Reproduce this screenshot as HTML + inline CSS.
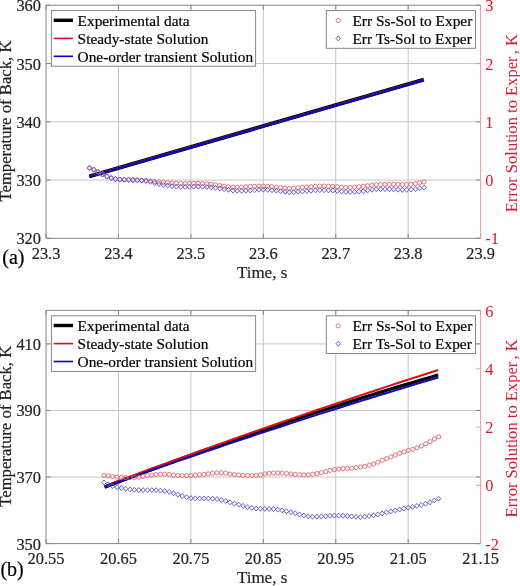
<!DOCTYPE html>
<html><head><meta charset="utf-8"><title>Temperature plots</title>
<style>html,body{margin:0;padding:0;background:#fff;width:520px;height:586px;overflow:hidden}svg{display:block}</style>
</head><body>
<svg width="520" height="586" viewBox="0 0 520 586">
<rect width="520" height="586" fill="#fff"/>
<defs><filter id="bl" x="0" y="0" width="1" height="1"><feGaussianBlur stdDeviation="0.45"/></filter></defs><g filter="url(#bl)">
<line x1="118.47" y1="5.2" x2="118.47" y2="238.3" stroke="#c6c6c6" stroke-width="1"/>
<line x1="190.90" y1="5.2" x2="190.90" y2="238.3" stroke="#c6c6c6" stroke-width="1"/>
<line x1="263.32" y1="5.2" x2="263.32" y2="238.3" stroke="#c6c6c6" stroke-width="1"/>
<line x1="335.75" y1="5.2" x2="335.75" y2="238.3" stroke="#c6c6c6" stroke-width="1"/>
<line x1="408.18" y1="5.2" x2="408.18" y2="238.3" stroke="#c6c6c6" stroke-width="1"/>
<line x1="46.05" y1="180.05" x2="480.6" y2="180.05" stroke="#c6c6c6" stroke-width="1"/>
<line x1="46.05" y1="121.80" x2="480.6" y2="121.80" stroke="#c6c6c6" stroke-width="1"/>
<line x1="46.05" y1="63.55" x2="480.6" y2="63.55" stroke="#c6c6c6" stroke-width="1"/>
<polyline points="89.40,176.30 423.80,79.70" fill="none" stroke="#000" stroke-width="3.9" stroke-linejoin="round"/>
<polyline points="89.40,176.30 423.80,79.70" fill="none" stroke="#e01018" stroke-width="2" stroke-linejoin="round"/>
<polyline points="89.40,176.65 423.80,80.05" fill="none" stroke="#0808b4" stroke-width="2.4" stroke-linejoin="round"/>
<circle cx="89.50" cy="167.95" r="2.1" fill="none" stroke="#e46470" stroke-width="0.9"/>
<circle cx="93.84" cy="169.71" r="2.1" fill="none" stroke="#e46470" stroke-width="0.9"/>
<circle cx="98.19" cy="171.89" r="2.1" fill="none" stroke="#e46470" stroke-width="0.9"/>
<circle cx="102.53" cy="174.46" r="2.1" fill="none" stroke="#e46470" stroke-width="0.9"/>
<circle cx="106.88" cy="176.48" r="2.1" fill="none" stroke="#e46470" stroke-width="0.9"/>
<circle cx="111.22" cy="177.97" r="2.1" fill="none" stroke="#e46470" stroke-width="0.9"/>
<circle cx="115.56" cy="178.95" r="2.1" fill="none" stroke="#e46470" stroke-width="0.9"/>
<circle cx="119.91" cy="179.48" r="2.1" fill="none" stroke="#e46470" stroke-width="0.9"/>
<circle cx="124.25" cy="179.55" r="2.1" fill="none" stroke="#e46470" stroke-width="0.9"/>
<circle cx="128.60" cy="179.64" r="2.1" fill="none" stroke="#e46470" stroke-width="0.9"/>
<circle cx="132.94" cy="179.79" r="2.1" fill="none" stroke="#e46470" stroke-width="0.9"/>
<circle cx="137.29" cy="179.97" r="2.1" fill="none" stroke="#e46470" stroke-width="0.9"/>
<circle cx="141.63" cy="180.18" r="2.1" fill="none" stroke="#e46470" stroke-width="0.9"/>
<circle cx="145.97" cy="180.44" r="2.1" fill="none" stroke="#e46470" stroke-width="0.9"/>
<circle cx="150.32" cy="180.90" r="2.1" fill="none" stroke="#e46470" stroke-width="0.9"/>
<circle cx="154.66" cy="181.50" r="2.1" fill="none" stroke="#e46470" stroke-width="0.9"/>
<circle cx="159.01" cy="181.95" r="2.1" fill="none" stroke="#e46470" stroke-width="0.9"/>
<circle cx="163.35" cy="182.33" r="2.1" fill="none" stroke="#e46470" stroke-width="0.9"/>
<circle cx="167.69" cy="182.70" r="2.1" fill="none" stroke="#e46470" stroke-width="0.9"/>
<circle cx="172.04" cy="183.03" r="2.1" fill="none" stroke="#e46470" stroke-width="0.9"/>
<circle cx="176.38" cy="183.28" r="2.1" fill="none" stroke="#e46470" stroke-width="0.9"/>
<circle cx="180.73" cy="183.47" r="2.1" fill="none" stroke="#e46470" stroke-width="0.9"/>
<circle cx="185.07" cy="183.54" r="2.1" fill="none" stroke="#e46470" stroke-width="0.9"/>
<circle cx="189.42" cy="183.48" r="2.1" fill="none" stroke="#e46470" stroke-width="0.9"/>
<circle cx="193.76" cy="183.41" r="2.1" fill="none" stroke="#e46470" stroke-width="0.9"/>
<circle cx="198.10" cy="183.38" r="2.1" fill="none" stroke="#e46470" stroke-width="0.9"/>
<circle cx="202.45" cy="183.58" r="2.1" fill="none" stroke="#e46470" stroke-width="0.9"/>
<circle cx="206.79" cy="183.98" r="2.1" fill="none" stroke="#e46470" stroke-width="0.9"/>
<circle cx="211.14" cy="184.42" r="2.1" fill="none" stroke="#e46470" stroke-width="0.9"/>
<circle cx="215.48" cy="184.91" r="2.1" fill="none" stroke="#e46470" stroke-width="0.9"/>
<circle cx="219.82" cy="185.54" r="2.1" fill="none" stroke="#e46470" stroke-width="0.9"/>
<circle cx="224.17" cy="186.21" r="2.1" fill="none" stroke="#e46470" stroke-width="0.9"/>
<circle cx="228.51" cy="186.84" r="2.1" fill="none" stroke="#e46470" stroke-width="0.9"/>
<circle cx="232.86" cy="187.31" r="2.1" fill="none" stroke="#e46470" stroke-width="0.9"/>
<circle cx="237.20" cy="187.37" r="2.1" fill="none" stroke="#e46470" stroke-width="0.9"/>
<circle cx="241.55" cy="187.12" r="2.1" fill="none" stroke="#e46470" stroke-width="0.9"/>
<circle cx="245.89" cy="186.80" r="2.1" fill="none" stroke="#e46470" stroke-width="0.9"/>
<circle cx="250.23" cy="186.51" r="2.1" fill="none" stroke="#e46470" stroke-width="0.9"/>
<circle cx="254.58" cy="186.31" r="2.1" fill="none" stroke="#e46470" stroke-width="0.9"/>
<circle cx="258.92" cy="186.15" r="2.1" fill="none" stroke="#e46470" stroke-width="0.9"/>
<circle cx="263.27" cy="186.13" r="2.1" fill="none" stroke="#e46470" stroke-width="0.9"/>
<circle cx="267.61" cy="186.37" r="2.1" fill="none" stroke="#e46470" stroke-width="0.9"/>
<circle cx="271.95" cy="186.76" r="2.1" fill="none" stroke="#e46470" stroke-width="0.9"/>
<circle cx="276.30" cy="187.25" r="2.1" fill="none" stroke="#e46470" stroke-width="0.9"/>
<circle cx="280.64" cy="187.73" r="2.1" fill="none" stroke="#e46470" stroke-width="0.9"/>
<circle cx="284.99" cy="188.11" r="2.1" fill="none" stroke="#e46470" stroke-width="0.9"/>
<circle cx="289.33" cy="188.38" r="2.1" fill="none" stroke="#e46470" stroke-width="0.9"/>
<circle cx="293.68" cy="188.26" r="2.1" fill="none" stroke="#e46470" stroke-width="0.9"/>
<circle cx="298.02" cy="187.85" r="2.1" fill="none" stroke="#e46470" stroke-width="0.9"/>
<circle cx="302.36" cy="187.39" r="2.1" fill="none" stroke="#e46470" stroke-width="0.9"/>
<circle cx="306.71" cy="186.99" r="2.1" fill="none" stroke="#e46470" stroke-width="0.9"/>
<circle cx="311.05" cy="186.66" r="2.1" fill="none" stroke="#e46470" stroke-width="0.9"/>
<circle cx="315.40" cy="186.34" r="2.1" fill="none" stroke="#e46470" stroke-width="0.9"/>
<circle cx="319.74" cy="186.09" r="2.1" fill="none" stroke="#e46470" stroke-width="0.9"/>
<circle cx="324.08" cy="186.14" r="2.1" fill="none" stroke="#e46470" stroke-width="0.9"/>
<circle cx="328.43" cy="186.28" r="2.1" fill="none" stroke="#e46470" stroke-width="0.9"/>
<circle cx="332.77" cy="186.45" r="2.1" fill="none" stroke="#e46470" stroke-width="0.9"/>
<circle cx="337.12" cy="186.74" r="2.1" fill="none" stroke="#e46470" stroke-width="0.9"/>
<circle cx="341.46" cy="187.15" r="2.1" fill="none" stroke="#e46470" stroke-width="0.9"/>
<circle cx="345.81" cy="187.48" r="2.1" fill="none" stroke="#e46470" stroke-width="0.9"/>
<circle cx="350.15" cy="187.42" r="2.1" fill="none" stroke="#e46470" stroke-width="0.9"/>
<circle cx="354.49" cy="187.12" r="2.1" fill="none" stroke="#e46470" stroke-width="0.9"/>
<circle cx="358.84" cy="186.76" r="2.1" fill="none" stroke="#e46470" stroke-width="0.9"/>
<circle cx="363.18" cy="186.26" r="2.1" fill="none" stroke="#e46470" stroke-width="0.9"/>
<circle cx="367.53" cy="185.70" r="2.1" fill="none" stroke="#e46470" stroke-width="0.9"/>
<circle cx="371.87" cy="185.14" r="2.1" fill="none" stroke="#e46470" stroke-width="0.9"/>
<circle cx="376.21" cy="184.72" r="2.1" fill="none" stroke="#e46470" stroke-width="0.9"/>
<circle cx="380.56" cy="184.55" r="2.1" fill="none" stroke="#e46470" stroke-width="0.9"/>
<circle cx="384.90" cy="184.44" r="2.1" fill="none" stroke="#e46470" stroke-width="0.9"/>
<circle cx="389.25" cy="184.35" r="2.1" fill="none" stroke="#e46470" stroke-width="0.9"/>
<circle cx="393.59" cy="184.40" r="2.1" fill="none" stroke="#e46470" stroke-width="0.9"/>
<circle cx="397.94" cy="184.51" r="2.1" fill="none" stroke="#e46470" stroke-width="0.9"/>
<circle cx="402.28" cy="184.59" r="2.1" fill="none" stroke="#e46470" stroke-width="0.9"/>
<circle cx="406.62" cy="184.50" r="2.1" fill="none" stroke="#e46470" stroke-width="0.9"/>
<circle cx="410.97" cy="184.15" r="2.1" fill="none" stroke="#e46470" stroke-width="0.9"/>
<circle cx="415.31" cy="183.64" r="2.1" fill="none" stroke="#e46470" stroke-width="0.9"/>
<circle cx="419.66" cy="182.77" r="2.1" fill="none" stroke="#e46470" stroke-width="0.9"/>
<circle cx="424.00" cy="181.96" r="2.1" fill="none" stroke="#e46470" stroke-width="0.9"/>
<path d="M89.50,165.45L91.70,167.95L89.50,170.45L87.30,167.95Z" fill="none" stroke="#5454cc" stroke-width="0.9"/>
<path d="M93.85,167.21L96.05,169.71L93.85,172.21L91.65,169.71Z" fill="none" stroke="#5454cc" stroke-width="0.9"/>
<path d="M98.19,169.39L100.39,171.89L98.19,174.39L95.99,171.89Z" fill="none" stroke="#5454cc" stroke-width="0.9"/>
<path d="M102.54,171.96L104.74,174.46L102.54,176.96L100.34,174.46Z" fill="none" stroke="#5454cc" stroke-width="0.9"/>
<path d="M106.88,173.99L109.08,176.49L106.88,178.99L104.68,176.49Z" fill="none" stroke="#5454cc" stroke-width="0.9"/>
<path d="M111.23,175.47L113.43,177.97L111.23,180.47L109.03,177.97Z" fill="none" stroke="#5454cc" stroke-width="0.9"/>
<path d="M115.57,176.45L117.77,178.95L115.57,181.45L113.37,178.95Z" fill="none" stroke="#5454cc" stroke-width="0.9"/>
<path d="M119.92,177.01L122.12,179.51L119.92,182.01L117.72,179.51Z" fill="none" stroke="#5454cc" stroke-width="0.9"/>
<path d="M124.26,177.20L126.46,179.70L124.26,182.20L122.06,179.70Z" fill="none" stroke="#5454cc" stroke-width="0.9"/>
<path d="M128.61,177.37L130.81,179.87L128.61,182.37L126.41,179.87Z" fill="none" stroke="#5454cc" stroke-width="0.9"/>
<path d="M132.95,177.57L135.15,180.07L132.95,182.57L130.75,180.07Z" fill="none" stroke="#5454cc" stroke-width="0.9"/>
<path d="M137.30,177.80L139.50,180.30L137.30,182.80L135.10,180.30Z" fill="none" stroke="#5454cc" stroke-width="0.9"/>
<path d="M141.65,178.08L143.85,180.58L141.65,183.08L139.45,180.58Z" fill="none" stroke="#5454cc" stroke-width="0.9"/>
<path d="M145.99,178.47L148.19,180.97L145.99,183.47L143.79,180.97Z" fill="none" stroke="#5454cc" stroke-width="0.9"/>
<path d="M150.34,179.36L152.54,181.86L150.34,184.36L148.14,181.86Z" fill="none" stroke="#5454cc" stroke-width="0.9"/>
<path d="M154.68,180.60L156.88,183.10L154.68,185.60L152.48,183.10Z" fill="none" stroke="#5454cc" stroke-width="0.9"/>
<path d="M159.03,181.52L161.23,184.02L159.03,186.52L156.83,184.02Z" fill="none" stroke="#5454cc" stroke-width="0.9"/>
<path d="M163.37,182.32L165.57,184.82L163.37,187.32L161.17,184.82Z" fill="none" stroke="#5454cc" stroke-width="0.9"/>
<path d="M167.72,183.08L169.92,185.58L167.72,188.08L165.52,185.58Z" fill="none" stroke="#5454cc" stroke-width="0.9"/>
<path d="M172.06,183.71L174.26,186.21L172.06,188.71L169.86,186.21Z" fill="none" stroke="#5454cc" stroke-width="0.9"/>
<path d="M176.41,184.07L178.61,186.57L176.41,189.07L174.21,186.57Z" fill="none" stroke="#5454cc" stroke-width="0.9"/>
<path d="M180.75,184.33L182.95,186.83L180.75,189.33L178.55,186.83Z" fill="none" stroke="#5454cc" stroke-width="0.9"/>
<path d="M185.10,184.40L187.30,186.90L185.10,189.40L182.90,186.90Z" fill="none" stroke="#5454cc" stroke-width="0.9"/>
<path d="M189.45,184.30L191.65,186.80L189.45,189.30L187.25,186.80Z" fill="none" stroke="#5454cc" stroke-width="0.9"/>
<path d="M193.79,184.18L195.99,186.68L193.79,189.18L191.59,186.68Z" fill="none" stroke="#5454cc" stroke-width="0.9"/>
<path d="M198.14,184.10L200.34,186.60L198.14,189.10L195.94,186.60Z" fill="none" stroke="#5454cc" stroke-width="0.9"/>
<path d="M202.48,184.23L204.68,186.73L202.48,189.23L200.28,186.73Z" fill="none" stroke="#5454cc" stroke-width="0.9"/>
<path d="M206.83,184.55L209.03,187.05L206.83,189.55L204.63,187.05Z" fill="none" stroke="#5454cc" stroke-width="0.9"/>
<path d="M211.17,184.90L213.37,187.40L211.17,189.90L208.97,187.40Z" fill="none" stroke="#5454cc" stroke-width="0.9"/>
<path d="M215.52,185.33L217.72,187.83L215.52,190.33L213.32,187.83Z" fill="none" stroke="#5454cc" stroke-width="0.9"/>
<path d="M219.86,185.95L222.06,188.45L219.86,190.95L217.66,188.45Z" fill="none" stroke="#5454cc" stroke-width="0.9"/>
<path d="M224.21,186.61L226.41,189.11L224.21,191.61L222.01,189.11Z" fill="none" stroke="#5454cc" stroke-width="0.9"/>
<path d="M228.55,187.30L230.75,189.80L228.55,192.30L226.35,189.80Z" fill="none" stroke="#5454cc" stroke-width="0.9"/>
<path d="M232.90,188.00L235.10,190.50L232.90,193.00L230.70,190.50Z" fill="none" stroke="#5454cc" stroke-width="0.9"/>
<path d="M237.25,188.36L239.45,190.86L237.25,193.36L235.05,190.86Z" fill="none" stroke="#5454cc" stroke-width="0.9"/>
<path d="M241.59,188.32L243.79,190.82L241.59,193.32L239.39,190.82Z" fill="none" stroke="#5454cc" stroke-width="0.9"/>
<path d="M245.94,188.20L248.14,190.70L245.94,193.20L243.74,190.70Z" fill="none" stroke="#5454cc" stroke-width="0.9"/>
<path d="M250.28,188.02L252.48,190.52L250.28,193.02L248.08,190.52Z" fill="none" stroke="#5454cc" stroke-width="0.9"/>
<path d="M254.63,187.64L256.83,190.14L254.63,192.64L252.43,190.14Z" fill="none" stroke="#5454cc" stroke-width="0.9"/>
<path d="M258.97,187.24L261.17,189.74L258.97,192.24L256.77,189.74Z" fill="none" stroke="#5454cc" stroke-width="0.9"/>
<path d="M263.32,187.09L265.52,189.59L263.32,192.09L261.12,189.59Z" fill="none" stroke="#5454cc" stroke-width="0.9"/>
<path d="M267.66,187.34L269.86,189.84L267.66,192.34L265.46,189.84Z" fill="none" stroke="#5454cc" stroke-width="0.9"/>
<path d="M272.01,187.74L274.21,190.24L272.01,192.74L269.81,190.24Z" fill="none" stroke="#5454cc" stroke-width="0.9"/>
<path d="M276.35,188.20L278.55,190.70L276.35,193.20L274.15,190.70Z" fill="none" stroke="#5454cc" stroke-width="0.9"/>
<path d="M280.70,188.71L282.90,191.21L280.70,193.71L278.50,191.21Z" fill="none" stroke="#5454cc" stroke-width="0.9"/>
<path d="M285.05,189.29L287.25,191.79L285.05,194.29L282.85,191.79Z" fill="none" stroke="#5454cc" stroke-width="0.9"/>
<path d="M289.39,189.77L291.59,192.27L289.39,194.77L287.19,192.27Z" fill="none" stroke="#5454cc" stroke-width="0.9"/>
<path d="M293.74,189.74L295.94,192.24L293.74,194.74L291.54,192.24Z" fill="none" stroke="#5454cc" stroke-width="0.9"/>
<path d="M298.08,189.34L300.28,191.84L298.08,194.34L295.88,191.84Z" fill="none" stroke="#5454cc" stroke-width="0.9"/>
<path d="M302.43,188.89L304.63,191.39L302.43,193.89L300.23,191.39Z" fill="none" stroke="#5454cc" stroke-width="0.9"/>
<path d="M306.77,188.48L308.97,190.98L306.77,193.48L304.57,190.98Z" fill="none" stroke="#5454cc" stroke-width="0.9"/>
<path d="M311.12,188.15L313.32,190.65L311.12,193.15L308.92,190.65Z" fill="none" stroke="#5454cc" stroke-width="0.9"/>
<path d="M315.46,187.83L317.66,190.33L315.46,192.83L313.26,190.33Z" fill="none" stroke="#5454cc" stroke-width="0.9"/>
<path d="M319.81,187.59L322.01,190.09L319.81,192.59L317.61,190.09Z" fill="none" stroke="#5454cc" stroke-width="0.9"/>
<path d="M324.15,187.67L326.35,190.17L324.15,192.67L321.95,190.17Z" fill="none" stroke="#5454cc" stroke-width="0.9"/>
<path d="M328.50,187.84L330.70,190.34L328.50,192.84L326.30,190.34Z" fill="none" stroke="#5454cc" stroke-width="0.9"/>
<path d="M332.85,188.05L335.05,190.55L332.85,193.05L330.65,190.55Z" fill="none" stroke="#5454cc" stroke-width="0.9"/>
<path d="M337.19,188.43L339.39,190.93L337.19,193.43L334.99,190.93Z" fill="none" stroke="#5454cc" stroke-width="0.9"/>
<path d="M341.54,188.97L343.74,191.47L341.54,193.97L339.34,191.47Z" fill="none" stroke="#5454cc" stroke-width="0.9"/>
<path d="M345.88,189.45L348.08,191.95L345.88,194.45L343.68,191.95Z" fill="none" stroke="#5454cc" stroke-width="0.9"/>
<path d="M350.23,189.52L352.43,192.02L350.23,194.52L348.03,192.02Z" fill="none" stroke="#5454cc" stroke-width="0.9"/>
<path d="M354.57,189.35L356.77,191.85L354.57,194.35L352.37,191.85Z" fill="none" stroke="#5454cc" stroke-width="0.9"/>
<path d="M358.92,189.09L361.12,191.59L358.92,194.09L356.72,191.59Z" fill="none" stroke="#5454cc" stroke-width="0.9"/>
<path d="M363.26,188.56L365.46,191.06L363.26,193.56L361.06,191.06Z" fill="none" stroke="#5454cc" stroke-width="0.9"/>
<path d="M367.61,187.88L369.81,190.38L367.61,192.88L365.41,190.38Z" fill="none" stroke="#5454cc" stroke-width="0.9"/>
<path d="M371.95,187.22L374.15,189.72L371.95,192.22L369.75,189.72Z" fill="none" stroke="#5454cc" stroke-width="0.9"/>
<path d="M376.30,186.78L378.50,189.28L376.30,191.78L374.10,189.28Z" fill="none" stroke="#5454cc" stroke-width="0.9"/>
<path d="M380.65,186.70L382.85,189.20L380.65,191.70L378.45,189.20Z" fill="none" stroke="#5454cc" stroke-width="0.9"/>
<path d="M384.99,186.70L387.19,189.20L384.99,191.70L382.79,189.20Z" fill="none" stroke="#5454cc" stroke-width="0.9"/>
<path d="M389.34,186.73L391.54,189.23L389.34,191.73L387.14,189.23Z" fill="none" stroke="#5454cc" stroke-width="0.9"/>
<path d="M393.68,186.90L395.88,189.40L393.68,191.90L391.48,189.40Z" fill="none" stroke="#5454cc" stroke-width="0.9"/>
<path d="M398.03,187.13L400.23,189.63L398.03,192.13L395.83,189.63Z" fill="none" stroke="#5454cc" stroke-width="0.9"/>
<path d="M402.37,187.32L404.57,189.82L402.37,192.32L400.17,189.82Z" fill="none" stroke="#5454cc" stroke-width="0.9"/>
<path d="M406.72,187.30L408.92,189.80L406.72,192.30L404.52,189.80Z" fill="none" stroke="#5454cc" stroke-width="0.9"/>
<path d="M411.06,187.01L413.26,189.51L411.06,192.01L408.86,189.51Z" fill="none" stroke="#5454cc" stroke-width="0.9"/>
<path d="M415.41,186.55L417.61,189.05L415.41,191.55L413.21,189.05Z" fill="none" stroke="#5454cc" stroke-width="0.9"/>
<path d="M419.75,185.81L421.95,188.31L419.75,190.81L417.55,188.31Z" fill="none" stroke="#5454cc" stroke-width="0.9"/>
<path d="M424.10,185.14L426.30,187.64L424.10,190.14L421.90,187.64Z" fill="none" stroke="#5454cc" stroke-width="0.9"/>
<line x1="46.05" y1="238.3" x2="46.05" y2="233.8" stroke="#858585" stroke-width="1"/>
<line x1="46.05" y1="5.2" x2="46.05" y2="9.7" stroke="#858585" stroke-width="1"/>
<line x1="118.47" y1="238.3" x2="118.47" y2="233.8" stroke="#858585" stroke-width="1"/>
<line x1="118.47" y1="5.2" x2="118.47" y2="9.7" stroke="#858585" stroke-width="1"/>
<line x1="190.90" y1="238.3" x2="190.90" y2="233.8" stroke="#858585" stroke-width="1"/>
<line x1="190.90" y1="5.2" x2="190.90" y2="9.7" stroke="#858585" stroke-width="1"/>
<line x1="263.32" y1="238.3" x2="263.32" y2="233.8" stroke="#858585" stroke-width="1"/>
<line x1="263.32" y1="5.2" x2="263.32" y2="9.7" stroke="#858585" stroke-width="1"/>
<line x1="335.75" y1="238.3" x2="335.75" y2="233.8" stroke="#858585" stroke-width="1"/>
<line x1="335.75" y1="5.2" x2="335.75" y2="9.7" stroke="#858585" stroke-width="1"/>
<line x1="408.18" y1="238.3" x2="408.18" y2="233.8" stroke="#858585" stroke-width="1"/>
<line x1="408.18" y1="5.2" x2="408.18" y2="9.7" stroke="#858585" stroke-width="1"/>
<line x1="480.60" y1="238.3" x2="480.60" y2="233.8" stroke="#858585" stroke-width="1"/>
<line x1="480.60" y1="5.2" x2="480.60" y2="9.7" stroke="#858585" stroke-width="1"/>
<line x1="46.05" y1="238.30" x2="50.55" y2="238.30" stroke="#858585" stroke-width="1"/>
<line x1="480.6" y1="238.30" x2="476.1" y2="238.30" stroke="#858585" stroke-width="1"/>
<line x1="46.05" y1="180.05" x2="50.55" y2="180.05" stroke="#858585" stroke-width="1"/>
<line x1="480.6" y1="180.05" x2="476.1" y2="180.05" stroke="#858585" stroke-width="1"/>
<line x1="46.05" y1="121.80" x2="50.55" y2="121.80" stroke="#858585" stroke-width="1"/>
<line x1="480.6" y1="121.80" x2="476.1" y2="121.80" stroke="#858585" stroke-width="1"/>
<line x1="46.05" y1="63.55" x2="50.55" y2="63.55" stroke="#858585" stroke-width="1"/>
<line x1="480.6" y1="63.55" x2="476.1" y2="63.55" stroke="#858585" stroke-width="1"/>
<line x1="46.05" y1="5.30" x2="50.55" y2="5.30" stroke="#858585" stroke-width="1"/>
<line x1="480.6" y1="5.30" x2="476.1" y2="5.30" stroke="#858585" stroke-width="1"/>
<line x1="480.6" y1="238.30" x2="476.1" y2="238.30" stroke="#f29a9a" stroke-width="1"/>
<line x1="480.6" y1="180.05" x2="476.1" y2="180.05" stroke="#f29a9a" stroke-width="1"/>
<line x1="480.6" y1="121.80" x2="476.1" y2="121.80" stroke="#f29a9a" stroke-width="1"/>
<line x1="480.6" y1="63.55" x2="476.1" y2="63.55" stroke="#f29a9a" stroke-width="1"/>
<line x1="480.6" y1="5.30" x2="476.1" y2="5.30" stroke="#f29a9a" stroke-width="1"/>
<path d="M480.6,5.2H46.05V238.3H480.6" fill="none" stroke="#858585" stroke-width="1"/>
<line x1="480.6" y1="5.2" x2="480.6" y2="238.3" stroke="#f29a9a" stroke-width="1"/>
<g font-family="'Liberation Serif','Times New Roman',serif" font-size="16.4" fill="#222222" stroke="#222222" stroke-width="0.2">
<text x="46.05" y="258.80" text-anchor="middle">23.3</text>
<text x="118.47" y="258.80" text-anchor="middle">23.4</text>
<text x="190.90" y="258.80" text-anchor="middle">23.5</text>
<text x="263.32" y="258.80" text-anchor="middle">23.6</text>
<text x="335.75" y="258.80" text-anchor="middle">23.7</text>
<text x="408.18" y="258.80" text-anchor="middle">23.8</text>
<text x="480.60" y="258.80" text-anchor="middle">23.9</text>
<text x="41.0" y="244.30" text-anchor="end">320</text>
<text x="41.0" y="186.05" text-anchor="end">330</text>
<text x="41.0" y="127.80" text-anchor="end">340</text>
<text x="41.0" y="69.55" text-anchor="end">350</text>
<text x="41.0" y="11.30" text-anchor="end">360</text>
</g>
<g font-family="'Liberation Serif','Times New Roman',serif" font-size="16.4" fill="#e0142e">
<text x="485.3" y="244.30">-1</text>
<text x="485.3" y="186.05">0</text>
<text x="485.3" y="127.80">1</text>
<text x="485.3" y="69.55">2</text>
<text x="485.3" y="11.30">3</text>
</g>
<text font-family="'Liberation Serif','Times New Roman',serif" font-size="16.7" fill="#222222" stroke="#222222" stroke-width="0.2" text-anchor="middle" transform="translate(11.4,121.05) rotate(-90)">Temperature of Back, K</text>
<text font-family="'Liberation Serif','Times New Roman',serif" font-size="16.55" fill="#e0142e" text-anchor="middle" transform="translate(516.8,123.05) rotate(-90)">Error Solution to Exper<tspan dx="3">,</tspan> K</text>
<text font-family="'Liberation Serif','Times New Roman',serif" font-size="17" fill="#222222" stroke="#222222" stroke-width="0.2" text-anchor="middle" x="262.1" y="277.90">Time, s</text>
<text font-family="'Liberation Serif','Times New Roman',serif" font-size="20" fill="#000" stroke="#000" stroke-width="0.2" x="2.3" y="264.30">(a)</text>
<rect x="51.4" y="10.60" width="204.2" height="55.6" fill="#fff" stroke="#858585" stroke-width="1"/>
<line x1="53.7" y1="20.30" x2="73.0" y2="20.30" stroke="#000" stroke-width="3.4"/>
<line x1="53.7" y1="38.40" x2="73.0" y2="38.40" stroke="#e01018" stroke-width="1.6"/>
<line x1="53.7" y1="56.30" x2="73.0" y2="56.30" stroke="#0000cc" stroke-width="1.6"/>
<g font-family="'Liberation Serif','Times New Roman',serif" font-size="15.35" fill="#000" stroke="#000" stroke-width="0.2">
<text x="77.6" y="25.90">Experimental data</text>
<text x="77.6" y="43.70">Steady-state Solution</text>
<text x="77.6" y="61.50">One-order transient Solution</text>
</g>
<rect x="326.3" y="10.60" width="149.2" height="37.7" fill="#fff" stroke="#858585" stroke-width="1"/>
<circle cx="338.2" cy="20.60" r="2.1" fill="none" stroke="#e46470" stroke-width="0.9"/>
<path d="M338.2,35.90L340.4,38.40L338.2,40.90L336.0,38.40Z" fill="none" stroke="#5454cc" stroke-width="0.9"/>
<g font-family="'Liberation Serif','Times New Roman',serif" font-size="15.35" fill="#000" stroke="#000" stroke-width="0.2">
<text x="352.5" y="25.80">Err Ss-Sol to Exper</text>
<text x="352.5" y="43.50">Err Ts-Sol to Exper</text>
</g>
<line x1="118.47" y1="310.4" x2="118.47" y2="543.6" stroke="#c6c6c6" stroke-width="1"/>
<line x1="190.90" y1="310.4" x2="190.90" y2="543.6" stroke="#c6c6c6" stroke-width="1"/>
<line x1="263.32" y1="310.4" x2="263.32" y2="543.6" stroke="#c6c6c6" stroke-width="1"/>
<line x1="335.75" y1="310.4" x2="335.75" y2="543.6" stroke="#c6c6c6" stroke-width="1"/>
<line x1="408.18" y1="310.4" x2="408.18" y2="543.6" stroke="#c6c6c6" stroke-width="1"/>
<line x1="46.05" y1="477.03" x2="480.6" y2="477.03" stroke="#c6c6c6" stroke-width="1"/>
<line x1="46.05" y1="410.46" x2="480.6" y2="410.46" stroke="#c6c6c6" stroke-width="1"/>
<line x1="46.05" y1="343.89" x2="480.6" y2="343.89" stroke="#c6c6c6" stroke-width="1"/>
<polyline points="104.60,487.10 113.15,483.84 121.71,480.61 130.26,477.40 138.82,474.21 147.37,471.04 155.92,467.88 164.48,464.75 173.03,461.64 181.58,458.54 190.14,455.47 198.69,452.42 207.25,449.39 215.80,446.37 224.35,443.38 232.91,440.41 241.46,437.45 250.02,434.52 258.57,431.61 267.12,428.71 275.68,425.84 284.23,422.98 292.78,420.15 301.34,417.34 309.89,414.54 318.45,411.77 327.00,409.01 335.55,406.28 344.11,403.56 352.66,400.87 361.22,398.19 369.77,395.54 378.32,392.90 386.88,390.29 395.43,387.69 403.98,385.12 412.54,382.56 421.09,380.03 429.65,377.51 438.20,375.01" fill="none" stroke="#000" stroke-width="3.3" stroke-linejoin="round"/>
<polyline points="104.60,486.21 113.15,482.99 121.71,479.79 130.26,476.60 138.82,473.42 147.37,470.26 155.92,467.10 164.48,463.96 173.03,460.83 181.58,457.72 190.14,454.61 198.69,451.52 207.25,448.44 215.80,445.37 224.35,442.32 232.91,439.28 241.46,436.25 250.02,433.23 258.57,430.22 267.12,427.23 275.68,424.25 284.23,421.28 292.78,418.32 301.34,415.38 309.89,412.45 318.45,409.53 327.00,406.62 335.55,403.73 344.11,400.85 352.66,397.98 361.22,395.12 369.77,392.27 378.32,389.44 386.88,386.62 395.43,383.81 403.98,381.02 412.54,378.23 421.09,375.46 429.65,372.70 438.20,369.96" fill="none" stroke="#e01018" stroke-width="2" stroke-linejoin="round"/>
<polyline points="104.60,487.01 113.15,483.95 121.71,480.89 130.26,477.85 138.82,474.82 147.37,471.81 155.92,468.81 164.48,465.82 173.03,462.85 181.58,459.89 190.14,456.94 198.69,454.01 207.25,451.09 215.80,448.19 224.35,445.30 232.91,442.42 241.46,439.55 250.02,436.70 258.57,433.87 267.12,431.04 275.68,428.23 284.23,425.43 292.78,422.65 301.34,419.88 309.89,417.13 318.45,414.38 327.00,411.66 335.55,408.94 344.11,406.24 352.66,403.55 361.22,400.88 369.77,398.22 378.32,395.57 386.88,392.94 395.43,390.32 403.98,387.71 412.54,385.12 421.09,382.54 429.65,379.97 438.20,377.42" fill="none" stroke="#0808b4" stroke-width="2" stroke-linejoin="round"/>
<circle cx="103.90" cy="475.44" r="2.1" fill="none" stroke="#e46470" stroke-width="0.9"/>
<circle cx="108.25" cy="475.81" r="2.1" fill="none" stroke="#e46470" stroke-width="0.9"/>
<circle cx="112.60" cy="476.58" r="2.1" fill="none" stroke="#e46470" stroke-width="0.9"/>
<circle cx="116.95" cy="477.08" r="2.1" fill="none" stroke="#e46470" stroke-width="0.9"/>
<circle cx="121.30" cy="477.37" r="2.1" fill="none" stroke="#e46470" stroke-width="0.9"/>
<circle cx="125.65" cy="477.57" r="2.1" fill="none" stroke="#e46470" stroke-width="0.9"/>
<circle cx="130.00" cy="477.56" r="2.1" fill="none" stroke="#e46470" stroke-width="0.9"/>
<circle cx="134.35" cy="477.49" r="2.1" fill="none" stroke="#e46470" stroke-width="0.9"/>
<circle cx="138.69" cy="477.17" r="2.1" fill="none" stroke="#e46470" stroke-width="0.9"/>
<circle cx="143.04" cy="476.55" r="2.1" fill="none" stroke="#e46470" stroke-width="0.9"/>
<circle cx="147.39" cy="475.69" r="2.1" fill="none" stroke="#e46470" stroke-width="0.9"/>
<circle cx="151.74" cy="475.06" r="2.1" fill="none" stroke="#e46470" stroke-width="0.9"/>
<circle cx="156.09" cy="474.55" r="2.1" fill="none" stroke="#e46470" stroke-width="0.9"/>
<circle cx="160.44" cy="474.30" r="2.1" fill="none" stroke="#e46470" stroke-width="0.9"/>
<circle cx="164.79" cy="474.19" r="2.1" fill="none" stroke="#e46470" stroke-width="0.9"/>
<circle cx="169.14" cy="474.49" r="2.1" fill="none" stroke="#e46470" stroke-width="0.9"/>
<circle cx="173.49" cy="475.14" r="2.1" fill="none" stroke="#e46470" stroke-width="0.9"/>
<circle cx="177.84" cy="475.51" r="2.1" fill="none" stroke="#e46470" stroke-width="0.9"/>
<circle cx="182.19" cy="475.79" r="2.1" fill="none" stroke="#e46470" stroke-width="0.9"/>
<circle cx="186.54" cy="475.72" r="2.1" fill="none" stroke="#e46470" stroke-width="0.9"/>
<circle cx="190.89" cy="475.49" r="2.1" fill="none" stroke="#e46470" stroke-width="0.9"/>
<circle cx="195.24" cy="475.14" r="2.1" fill="none" stroke="#e46470" stroke-width="0.9"/>
<circle cx="199.59" cy="474.77" r="2.1" fill="none" stroke="#e46470" stroke-width="0.9"/>
<circle cx="203.94" cy="474.42" r="2.1" fill="none" stroke="#e46470" stroke-width="0.9"/>
<circle cx="208.28" cy="473.91" r="2.1" fill="none" stroke="#e46470" stroke-width="0.9"/>
<circle cx="212.63" cy="473.16" r="2.1" fill="none" stroke="#e46470" stroke-width="0.9"/>
<circle cx="216.98" cy="472.91" r="2.1" fill="none" stroke="#e46470" stroke-width="0.9"/>
<circle cx="221.33" cy="472.84" r="2.1" fill="none" stroke="#e46470" stroke-width="0.9"/>
<circle cx="225.68" cy="473.09" r="2.1" fill="none" stroke="#e46470" stroke-width="0.9"/>
<circle cx="230.03" cy="474.04" r="2.1" fill="none" stroke="#e46470" stroke-width="0.9"/>
<circle cx="234.38" cy="474.56" r="2.1" fill="none" stroke="#e46470" stroke-width="0.9"/>
<circle cx="238.73" cy="475.00" r="2.1" fill="none" stroke="#e46470" stroke-width="0.9"/>
<circle cx="243.08" cy="475.36" r="2.1" fill="none" stroke="#e46470" stroke-width="0.9"/>
<circle cx="247.43" cy="475.65" r="2.1" fill="none" stroke="#e46470" stroke-width="0.9"/>
<circle cx="251.78" cy="475.60" r="2.1" fill="none" stroke="#e46470" stroke-width="0.9"/>
<circle cx="256.13" cy="475.44" r="2.1" fill="none" stroke="#e46470" stroke-width="0.9"/>
<circle cx="260.48" cy="474.82" r="2.1" fill="none" stroke="#e46470" stroke-width="0.9"/>
<circle cx="264.83" cy="473.88" r="2.1" fill="none" stroke="#e46470" stroke-width="0.9"/>
<circle cx="269.18" cy="473.35" r="2.1" fill="none" stroke="#e46470" stroke-width="0.9"/>
<circle cx="273.52" cy="473.04" r="2.1" fill="none" stroke="#e46470" stroke-width="0.9"/>
<circle cx="277.87" cy="473.00" r="2.1" fill="none" stroke="#e46470" stroke-width="0.9"/>
<circle cx="282.22" cy="473.05" r="2.1" fill="none" stroke="#e46470" stroke-width="0.9"/>
<circle cx="286.57" cy="473.50" r="2.1" fill="none" stroke="#e46470" stroke-width="0.9"/>
<circle cx="290.92" cy="474.00" r="2.1" fill="none" stroke="#e46470" stroke-width="0.9"/>
<circle cx="295.27" cy="474.47" r="2.1" fill="none" stroke="#e46470" stroke-width="0.9"/>
<circle cx="299.62" cy="474.70" r="2.1" fill="none" stroke="#e46470" stroke-width="0.9"/>
<circle cx="303.97" cy="474.87" r="2.1" fill="none" stroke="#e46470" stroke-width="0.9"/>
<circle cx="308.32" cy="474.74" r="2.1" fill="none" stroke="#e46470" stroke-width="0.9"/>
<circle cx="312.67" cy="474.23" r="2.1" fill="none" stroke="#e46470" stroke-width="0.9"/>
<circle cx="317.02" cy="473.56" r="2.1" fill="none" stroke="#e46470" stroke-width="0.9"/>
<circle cx="321.37" cy="472.57" r="2.1" fill="none" stroke="#e46470" stroke-width="0.9"/>
<circle cx="325.72" cy="471.55" r="2.1" fill="none" stroke="#e46470" stroke-width="0.9"/>
<circle cx="330.07" cy="470.42" r="2.1" fill="none" stroke="#e46470" stroke-width="0.9"/>
<circle cx="334.42" cy="469.67" r="2.1" fill="none" stroke="#e46470" stroke-width="0.9"/>
<circle cx="338.76" cy="469.01" r="2.1" fill="none" stroke="#e46470" stroke-width="0.9"/>
<circle cx="343.11" cy="468.62" r="2.1" fill="none" stroke="#e46470" stroke-width="0.9"/>
<circle cx="347.46" cy="468.43" r="2.1" fill="none" stroke="#e46470" stroke-width="0.9"/>
<circle cx="351.81" cy="468.19" r="2.1" fill="none" stroke="#e46470" stroke-width="0.9"/>
<circle cx="356.16" cy="467.62" r="2.1" fill="none" stroke="#e46470" stroke-width="0.9"/>
<circle cx="360.51" cy="467.13" r="2.1" fill="none" stroke="#e46470" stroke-width="0.9"/>
<circle cx="364.86" cy="466.44" r="2.1" fill="none" stroke="#e46470" stroke-width="0.9"/>
<circle cx="369.21" cy="465.22" r="2.1" fill="none" stroke="#e46470" stroke-width="0.9"/>
<circle cx="373.56" cy="463.94" r="2.1" fill="none" stroke="#e46470" stroke-width="0.9"/>
<circle cx="377.91" cy="462.12" r="2.1" fill="none" stroke="#e46470" stroke-width="0.9"/>
<circle cx="382.26" cy="460.32" r="2.1" fill="none" stroke="#e46470" stroke-width="0.9"/>
<circle cx="386.61" cy="458.70" r="2.1" fill="none" stroke="#e46470" stroke-width="0.9"/>
<circle cx="390.96" cy="456.97" r="2.1" fill="none" stroke="#e46470" stroke-width="0.9"/>
<circle cx="395.31" cy="455.08" r="2.1" fill="none" stroke="#e46470" stroke-width="0.9"/>
<circle cx="399.66" cy="453.35" r="2.1" fill="none" stroke="#e46470" stroke-width="0.9"/>
<circle cx="404.01" cy="451.77" r="2.1" fill="none" stroke="#e46470" stroke-width="0.9"/>
<circle cx="408.35" cy="450.31" r="2.1" fill="none" stroke="#e46470" stroke-width="0.9"/>
<circle cx="412.70" cy="449.30" r="2.1" fill="none" stroke="#e46470" stroke-width="0.9"/>
<circle cx="417.05" cy="447.75" r="2.1" fill="none" stroke="#e46470" stroke-width="0.9"/>
<circle cx="421.40" cy="445.99" r="2.1" fill="none" stroke="#e46470" stroke-width="0.9"/>
<circle cx="425.75" cy="443.83" r="2.1" fill="none" stroke="#e46470" stroke-width="0.9"/>
<circle cx="430.10" cy="441.62" r="2.1" fill="none" stroke="#e46470" stroke-width="0.9"/>
<circle cx="434.45" cy="438.89" r="2.1" fill="none" stroke="#e46470" stroke-width="0.9"/>
<circle cx="438.80" cy="436.84" r="2.1" fill="none" stroke="#e46470" stroke-width="0.9"/>
<path d="M104.00,480.02L106.20,482.52L104.00,485.02L101.80,482.52Z" fill="none" stroke="#5454cc" stroke-width="0.9"/>
<path d="M108.35,481.83L110.55,484.33L108.35,486.83L106.15,484.33Z" fill="none" stroke="#5454cc" stroke-width="0.9"/>
<path d="M112.69,483.70L114.89,486.20L112.69,488.70L110.49,486.20Z" fill="none" stroke="#5454cc" stroke-width="0.9"/>
<path d="M117.04,484.65L119.24,487.15L117.04,489.65L114.84,487.15Z" fill="none" stroke="#5454cc" stroke-width="0.9"/>
<path d="M121.38,485.55L123.58,488.05L121.38,490.55L119.18,488.05Z" fill="none" stroke="#5454cc" stroke-width="0.9"/>
<path d="M125.73,486.27L127.93,488.77L125.73,491.27L123.53,488.77Z" fill="none" stroke="#5454cc" stroke-width="0.9"/>
<path d="M130.07,486.90L132.27,489.40L130.07,491.90L127.87,489.40Z" fill="none" stroke="#5454cc" stroke-width="0.9"/>
<path d="M134.42,487.26L136.62,489.76L134.42,492.26L132.22,489.76Z" fill="none" stroke="#5454cc" stroke-width="0.9"/>
<path d="M138.76,487.55L140.96,490.05L138.76,492.55L136.56,490.05Z" fill="none" stroke="#5454cc" stroke-width="0.9"/>
<path d="M143.11,487.60L145.31,490.10L143.11,492.60L140.91,490.10Z" fill="none" stroke="#5454cc" stroke-width="0.9"/>
<path d="M147.45,487.60L149.65,490.10L147.45,492.60L145.25,490.10Z" fill="none" stroke="#5454cc" stroke-width="0.9"/>
<path d="M151.80,487.61L154.00,490.11L151.80,492.61L149.60,490.11Z" fill="none" stroke="#5454cc" stroke-width="0.9"/>
<path d="M156.15,487.71L158.35,490.21L156.15,492.71L153.95,490.21Z" fill="none" stroke="#5454cc" stroke-width="0.9"/>
<path d="M160.49,488.06L162.69,490.56L160.49,493.06L158.29,490.56Z" fill="none" stroke="#5454cc" stroke-width="0.9"/>
<path d="M164.84,488.53L167.04,491.03L164.84,493.53L162.64,491.03Z" fill="none" stroke="#5454cc" stroke-width="0.9"/>
<path d="M169.18,489.30L171.38,491.80L169.18,494.30L166.98,491.80Z" fill="none" stroke="#5454cc" stroke-width="0.9"/>
<path d="M173.53,490.76L175.73,493.26L173.53,495.76L171.33,493.26Z" fill="none" stroke="#5454cc" stroke-width="0.9"/>
<path d="M177.87,492.20L180.07,494.70L177.87,497.20L175.67,494.70Z" fill="none" stroke="#5454cc" stroke-width="0.9"/>
<path d="M182.22,493.53L184.42,496.03L182.22,498.53L180.02,496.03Z" fill="none" stroke="#5454cc" stroke-width="0.9"/>
<path d="M186.56,494.66L188.76,497.16L186.56,499.66L184.36,497.16Z" fill="none" stroke="#5454cc" stroke-width="0.9"/>
<path d="M190.91,495.62L193.11,498.12L190.91,500.62L188.71,498.12Z" fill="none" stroke="#5454cc" stroke-width="0.9"/>
<path d="M195.25,495.87L197.45,498.37L195.25,500.87L193.05,498.37Z" fill="none" stroke="#5454cc" stroke-width="0.9"/>
<path d="M199.60,495.99L201.80,498.49L199.60,500.99L197.40,498.49Z" fill="none" stroke="#5454cc" stroke-width="0.9"/>
<path d="M203.95,496.00L206.15,498.50L203.95,501.00L201.75,498.50Z" fill="none" stroke="#5454cc" stroke-width="0.9"/>
<path d="M208.29,496.04L210.49,498.54L208.29,501.04L206.09,498.54Z" fill="none" stroke="#5454cc" stroke-width="0.9"/>
<path d="M212.64,496.24L214.84,498.74L212.64,501.24L210.44,498.74Z" fill="none" stroke="#5454cc" stroke-width="0.9"/>
<path d="M216.98,496.63L219.18,499.13L216.98,501.63L214.78,499.13Z" fill="none" stroke="#5454cc" stroke-width="0.9"/>
<path d="M221.33,497.45L223.53,499.95L221.33,502.45L219.13,499.95Z" fill="none" stroke="#5454cc" stroke-width="0.9"/>
<path d="M225.67,498.53L227.87,501.03L225.67,503.53L223.47,501.03Z" fill="none" stroke="#5454cc" stroke-width="0.9"/>
<path d="M230.02,499.91L232.22,502.41L230.02,504.91L227.82,502.41Z" fill="none" stroke="#5454cc" stroke-width="0.9"/>
<path d="M234.36,501.10L236.56,503.60L234.36,506.10L232.16,503.60Z" fill="none" stroke="#5454cc" stroke-width="0.9"/>
<path d="M238.71,502.13L240.91,504.63L238.71,507.13L236.51,504.63Z" fill="none" stroke="#5454cc" stroke-width="0.9"/>
<path d="M243.05,503.43L245.25,505.93L243.05,508.43L240.85,505.93Z" fill="none" stroke="#5454cc" stroke-width="0.9"/>
<path d="M247.40,504.63L249.60,507.13L247.40,509.63L245.20,507.13Z" fill="none" stroke="#5454cc" stroke-width="0.9"/>
<path d="M251.75,505.38L253.95,507.88L251.75,510.38L249.55,507.88Z" fill="none" stroke="#5454cc" stroke-width="0.9"/>
<path d="M256.09,505.98L258.29,508.48L256.09,510.98L253.89,508.48Z" fill="none" stroke="#5454cc" stroke-width="0.9"/>
<path d="M260.44,506.22L262.64,508.72L260.44,511.22L258.24,508.72Z" fill="none" stroke="#5454cc" stroke-width="0.9"/>
<path d="M264.78,506.38L266.98,508.88L264.78,511.38L262.58,508.88Z" fill="none" stroke="#5454cc" stroke-width="0.9"/>
<path d="M269.13,506.41L271.33,508.91L269.13,511.41L266.93,508.91Z" fill="none" stroke="#5454cc" stroke-width="0.9"/>
<path d="M273.47,506.52L275.67,509.02L273.47,511.52L271.27,509.02Z" fill="none" stroke="#5454cc" stroke-width="0.9"/>
<path d="M277.82,507.11L280.02,509.61L277.82,512.11L275.62,509.61Z" fill="none" stroke="#5454cc" stroke-width="0.9"/>
<path d="M282.16,507.84L284.36,510.34L282.16,512.84L279.96,510.34Z" fill="none" stroke="#5454cc" stroke-width="0.9"/>
<path d="M286.51,508.74L288.71,511.24L286.51,513.74L284.31,511.24Z" fill="none" stroke="#5454cc" stroke-width="0.9"/>
<path d="M290.85,509.72L293.05,512.22L290.85,514.72L288.65,512.22Z" fill="none" stroke="#5454cc" stroke-width="0.9"/>
<path d="M295.20,510.79L297.40,513.29L295.20,515.79L293.00,513.29Z" fill="none" stroke="#5454cc" stroke-width="0.9"/>
<path d="M299.55,511.96L301.75,514.46L299.55,516.96L297.35,514.46Z" fill="none" stroke="#5454cc" stroke-width="0.9"/>
<path d="M303.89,513.06L306.09,515.56L303.89,518.06L301.69,515.56Z" fill="none" stroke="#5454cc" stroke-width="0.9"/>
<path d="M308.24,513.75L310.44,516.25L308.24,518.75L306.04,516.25Z" fill="none" stroke="#5454cc" stroke-width="0.9"/>
<path d="M312.58,514.22L314.78,516.72L312.58,519.22L310.38,516.72Z" fill="none" stroke="#5454cc" stroke-width="0.9"/>
<path d="M316.93,514.18L319.13,516.68L316.93,519.18L314.73,516.68Z" fill="none" stroke="#5454cc" stroke-width="0.9"/>
<path d="M321.27,514.02L323.47,516.52L321.27,519.02L319.07,516.52Z" fill="none" stroke="#5454cc" stroke-width="0.9"/>
<path d="M325.62,513.70L327.82,516.20L325.62,518.70L323.42,516.20Z" fill="none" stroke="#5454cc" stroke-width="0.9"/>
<path d="M329.96,513.36L332.16,515.86L329.96,518.36L327.76,515.86Z" fill="none" stroke="#5454cc" stroke-width="0.9"/>
<path d="M334.31,513.11L336.51,515.61L334.31,518.11L332.11,515.61Z" fill="none" stroke="#5454cc" stroke-width="0.9"/>
<path d="M338.65,513.13L340.85,515.63L338.65,518.13L336.45,515.63Z" fill="none" stroke="#5454cc" stroke-width="0.9"/>
<path d="M343.00,513.29L345.20,515.79L343.00,518.29L340.80,515.79Z" fill="none" stroke="#5454cc" stroke-width="0.9"/>
<path d="M347.35,513.56L349.55,516.06L347.35,518.56L345.15,516.06Z" fill="none" stroke="#5454cc" stroke-width="0.9"/>
<path d="M351.69,514.01L353.89,516.51L351.69,519.01L349.49,516.51Z" fill="none" stroke="#5454cc" stroke-width="0.9"/>
<path d="M356.04,514.38L358.24,516.88L356.04,519.38L353.84,516.88Z" fill="none" stroke="#5454cc" stroke-width="0.9"/>
<path d="M360.38,514.55L362.58,517.05L360.38,519.55L358.18,517.05Z" fill="none" stroke="#5454cc" stroke-width="0.9"/>
<path d="M364.73,514.18L366.93,516.68L364.73,519.18L362.53,516.68Z" fill="none" stroke="#5454cc" stroke-width="0.9"/>
<path d="M369.07,513.46L371.27,515.96L369.07,518.46L366.87,515.96Z" fill="none" stroke="#5454cc" stroke-width="0.9"/>
<path d="M373.42,512.75L375.62,515.25L373.42,517.75L371.22,515.25Z" fill="none" stroke="#5454cc" stroke-width="0.9"/>
<path d="M377.76,512.00L379.96,514.50L377.76,517.00L375.56,514.50Z" fill="none" stroke="#5454cc" stroke-width="0.9"/>
<path d="M382.11,510.98L384.31,513.48L382.11,515.98L379.91,513.48Z" fill="none" stroke="#5454cc" stroke-width="0.9"/>
<path d="M386.45,509.92L388.65,512.42L386.45,514.92L384.25,512.42Z" fill="none" stroke="#5454cc" stroke-width="0.9"/>
<path d="M390.80,508.90L393.00,511.40L390.80,513.90L388.60,511.40Z" fill="none" stroke="#5454cc" stroke-width="0.9"/>
<path d="M395.15,507.90L397.35,510.40L395.15,512.90L392.95,510.40Z" fill="none" stroke="#5454cc" stroke-width="0.9"/>
<path d="M399.49,506.97L401.69,509.47L399.49,511.97L397.29,509.47Z" fill="none" stroke="#5454cc" stroke-width="0.9"/>
<path d="M403.84,506.07L406.04,508.57L403.84,511.07L401.64,508.57Z" fill="none" stroke="#5454cc" stroke-width="0.9"/>
<path d="M408.18,505.23L410.38,507.73L408.18,510.23L405.98,507.73Z" fill="none" stroke="#5454cc" stroke-width="0.9"/>
<path d="M412.53,504.40L414.73,506.90L412.53,509.40L410.33,506.90Z" fill="none" stroke="#5454cc" stroke-width="0.9"/>
<path d="M416.87,503.47L419.07,505.97L416.87,508.47L414.67,505.97Z" fill="none" stroke="#5454cc" stroke-width="0.9"/>
<path d="M421.22,502.48L423.42,504.98L421.22,507.48L419.02,504.98Z" fill="none" stroke="#5454cc" stroke-width="0.9"/>
<path d="M425.56,501.22L427.76,503.72L425.56,506.22L423.36,503.72Z" fill="none" stroke="#5454cc" stroke-width="0.9"/>
<path d="M429.91,499.85L432.11,502.35L429.91,504.85L427.71,502.35Z" fill="none" stroke="#5454cc" stroke-width="0.9"/>
<path d="M434.25,497.95L436.45,500.45L434.25,502.95L432.05,500.45Z" fill="none" stroke="#5454cc" stroke-width="0.9"/>
<path d="M438.60,496.21L440.80,498.71L438.60,501.21L436.40,498.71Z" fill="none" stroke="#5454cc" stroke-width="0.9"/>
<line x1="46.05" y1="543.6" x2="46.05" y2="539.1" stroke="#858585" stroke-width="1"/>
<line x1="46.05" y1="310.4" x2="46.05" y2="314.9" stroke="#858585" stroke-width="1"/>
<line x1="118.47" y1="543.6" x2="118.47" y2="539.1" stroke="#858585" stroke-width="1"/>
<line x1="118.47" y1="310.4" x2="118.47" y2="314.9" stroke="#858585" stroke-width="1"/>
<line x1="190.90" y1="543.6" x2="190.90" y2="539.1" stroke="#858585" stroke-width="1"/>
<line x1="190.90" y1="310.4" x2="190.90" y2="314.9" stroke="#858585" stroke-width="1"/>
<line x1="263.32" y1="543.6" x2="263.32" y2="539.1" stroke="#858585" stroke-width="1"/>
<line x1="263.32" y1="310.4" x2="263.32" y2="314.9" stroke="#858585" stroke-width="1"/>
<line x1="335.75" y1="543.6" x2="335.75" y2="539.1" stroke="#858585" stroke-width="1"/>
<line x1="335.75" y1="310.4" x2="335.75" y2="314.9" stroke="#858585" stroke-width="1"/>
<line x1="408.18" y1="543.6" x2="408.18" y2="539.1" stroke="#858585" stroke-width="1"/>
<line x1="408.18" y1="310.4" x2="408.18" y2="314.9" stroke="#858585" stroke-width="1"/>
<line x1="480.60" y1="543.6" x2="480.60" y2="539.1" stroke="#858585" stroke-width="1"/>
<line x1="480.60" y1="310.4" x2="480.60" y2="314.9" stroke="#858585" stroke-width="1"/>
<line x1="46.05" y1="543.60" x2="50.55" y2="543.60" stroke="#858585" stroke-width="1"/>
<line x1="480.6" y1="543.60" x2="476.1" y2="543.60" stroke="#858585" stroke-width="1"/>
<line x1="46.05" y1="477.03" x2="50.55" y2="477.03" stroke="#858585" stroke-width="1"/>
<line x1="480.6" y1="477.03" x2="476.1" y2="477.03" stroke="#858585" stroke-width="1"/>
<line x1="46.05" y1="410.46" x2="50.55" y2="410.46" stroke="#858585" stroke-width="1"/>
<line x1="480.6" y1="410.46" x2="476.1" y2="410.46" stroke="#858585" stroke-width="1"/>
<line x1="46.05" y1="343.89" x2="50.55" y2="343.89" stroke="#858585" stroke-width="1"/>
<line x1="480.6" y1="343.89" x2="476.1" y2="343.89" stroke="#858585" stroke-width="1"/>
<line x1="480.6" y1="543.60" x2="476.1" y2="543.60" stroke="#f29a9a" stroke-width="1"/>
<line x1="480.6" y1="485.35" x2="476.1" y2="485.35" stroke="#f29a9a" stroke-width="1"/>
<line x1="480.6" y1="427.10" x2="476.1" y2="427.10" stroke="#f29a9a" stroke-width="1"/>
<line x1="480.6" y1="368.85" x2="476.1" y2="368.85" stroke="#f29a9a" stroke-width="1"/>
<line x1="480.6" y1="310.60" x2="476.1" y2="310.60" stroke="#f29a9a" stroke-width="1"/>
<path d="M480.6,310.4H46.05V543.6H480.6" fill="none" stroke="#858585" stroke-width="1"/>
<line x1="480.6" y1="310.4" x2="480.6" y2="543.6" stroke="#f29a9a" stroke-width="1"/>
<g font-family="'Liberation Serif','Times New Roman',serif" font-size="16.4" fill="#222222" stroke="#222222" stroke-width="0.2">
<text x="46.05" y="564.10" text-anchor="middle">20.55</text>
<text x="118.47" y="564.10" text-anchor="middle">20.65</text>
<text x="190.90" y="564.10" text-anchor="middle">20.75</text>
<text x="263.32" y="564.10" text-anchor="middle">20.85</text>
<text x="335.75" y="564.10" text-anchor="middle">20.95</text>
<text x="408.18" y="564.10" text-anchor="middle">21.05</text>
<text x="480.60" y="564.10" text-anchor="middle">21.15</text>
<text x="41.0" y="549.60" text-anchor="end">350</text>
<text x="41.0" y="483.03" text-anchor="end">370</text>
<text x="41.0" y="416.46" text-anchor="end">390</text>
<text x="41.0" y="349.89" text-anchor="end">410</text>
</g>
<g font-family="'Liberation Serif','Times New Roman',serif" font-size="16.4" fill="#e0142e">
<text x="485.3" y="549.60">-2</text>
<text x="485.3" y="491.35">0</text>
<text x="485.3" y="433.10">2</text>
<text x="485.3" y="374.85">4</text>
<text x="485.3" y="316.60">6</text>
</g>
<text font-family="'Liberation Serif','Times New Roman',serif" font-size="16.7" fill="#222222" stroke="#222222" stroke-width="0.2" text-anchor="middle" transform="translate(11.4,426.30) rotate(-90)">Temperature of Back, K</text>
<text font-family="'Liberation Serif','Times New Roman',serif" font-size="16.55" fill="#e0142e" text-anchor="middle" transform="translate(516.8,428.30) rotate(-90)">Error Solution to Exper<tspan dx="3">,</tspan> K</text>
<text font-family="'Liberation Serif','Times New Roman',serif" font-size="17" fill="#222222" stroke="#222222" stroke-width="0.2" text-anchor="middle" x="262.1" y="583.20">Time, s</text>
<text font-family="'Liberation Serif','Times New Roman',serif" font-size="20" fill="#000" stroke="#000" stroke-width="0.2" x="0.4" y="576.30">(b)</text>
<rect x="51.4" y="315.80" width="204.2" height="55.6" fill="#fff" stroke="#858585" stroke-width="1"/>
<line x1="53.7" y1="325.50" x2="73.0" y2="325.50" stroke="#000" stroke-width="3.4"/>
<line x1="53.7" y1="343.60" x2="73.0" y2="343.60" stroke="#e01018" stroke-width="1.6"/>
<line x1="53.7" y1="361.50" x2="73.0" y2="361.50" stroke="#0000cc" stroke-width="1.6"/>
<g font-family="'Liberation Serif','Times New Roman',serif" font-size="15.35" fill="#000" stroke="#000" stroke-width="0.2">
<text x="77.6" y="331.10">Experimental data</text>
<text x="77.6" y="348.90">Steady-state Solution</text>
<text x="77.6" y="366.70">One-order transient Solution</text>
</g>
<rect x="326.3" y="315.80" width="149.2" height="37.7" fill="#fff" stroke="#858585" stroke-width="1"/>
<circle cx="338.2" cy="325.80" r="2.1" fill="none" stroke="#e46470" stroke-width="0.9"/>
<path d="M338.2,341.10L340.4,343.60L338.2,346.10L336.0,343.60Z" fill="none" stroke="#5454cc" stroke-width="0.9"/>
<g font-family="'Liberation Serif','Times New Roman',serif" font-size="15.35" fill="#000" stroke="#000" stroke-width="0.2">
<text x="352.5" y="331.00">Err Ss-Sol to Exper</text>
<text x="352.5" y="348.70">Err Ts-Sol to Exper</text>
</g>
</g>
</svg>
</body></html>
